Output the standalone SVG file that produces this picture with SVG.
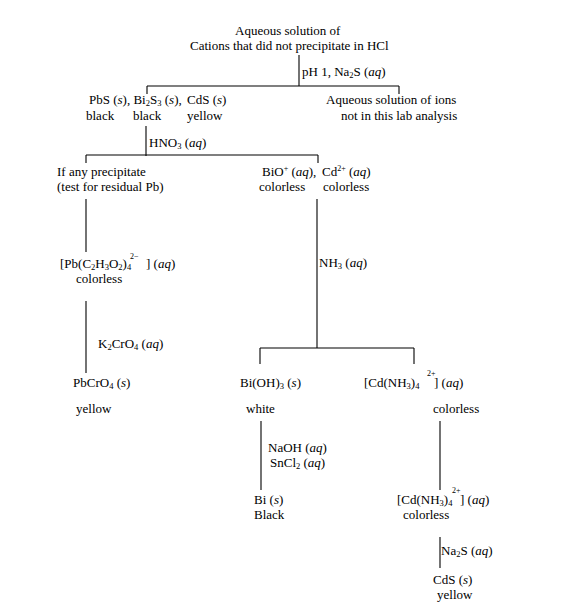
<svg xmlns="http://www.w3.org/2000/svg" width="586" height="616" viewBox="0 0 586 616">
<style>
text{font-family:"Liberation Serif","Times New Roman",serif;font-size:13px;fill:#000}
.i{font-style:italic}
.sub{font-size:8.5px}
.sup{font-size:8px}
.c line{stroke:#000;stroke-width:1.1;fill:none}
</style>
<rect width="586" height="616" fill="#fff"/>
<g id="connectors" class="c">
<line x1="299" y1="55" x2="299" y2="86"/>
<line x1="147" y1="86" x2="399" y2="86"/>
<line x1="147" y1="86" x2="147" y2="94"/>
<line x1="399" y1="86" x2="399" y2="94"/>
<line x1="146" y1="126" x2="146" y2="156"/>
<line x1="86" y1="155" x2="318" y2="155"/>
<line x1="86" y1="155" x2="86" y2="163"/>
<line x1="318" y1="155" x2="318" y2="163"/>
<line x1="86" y1="199" x2="86" y2="252"/>
<line x1="86" y1="301" x2="86" y2="373"/>
<line x1="317" y1="199" x2="317" y2="348"/>
<line x1="260" y1="348" x2="414" y2="348"/>
<line x1="260" y1="348" x2="260" y2="364"/>
<line x1="414" y1="348" x2="414" y2="364"/>
<line x1="261" y1="421" x2="261" y2="490"/>
<line x1="440" y1="421" x2="440" y2="490"/>
<line x1="440" y1="537" x2="440" y2="568"/>
</g>
<g id="start">
<text x="235" y="35">Aqueous solution of</text>
<text x="190" y="50">Cations that did not precipitate in HCl</text>
</g>
<g id="label-na2s-1"><text x="302" y="76">pH 1, Na<tspan class="sub" dy="1.5">2</tspan><tspan dy="-1.5">S (</tspan><tspan class="i">aq</tspan>)</text></g>
<g id="sulfides">
<text x="89" y="104">PbS (<tspan class="i">s</tspan>), Bi<tspan class="sub" dy="1.5">2</tspan><tspan dy="-1.5">S</tspan><tspan class="sub" dy="1.5">3</tspan><tspan dy="-1.5"> (</tspan><tspan class="i">s</tspan>),</text>
<text x="187" y="104">CdS (<tspan class="i">s</tspan>)</text>
<text x="86" y="120">black</text>
<text x="133" y="120">black</text>
<text x="187" y="120">yellow</text>
</g>
<g id="other-ions">
<text x="326" y="104">Aqueous solution of ions</text>
<text x="341" y="120">not in this lab analysis</text>
</g>
<g id="label-hno3"><text x="149" y="147">HNO<tspan class="sub" dy="1.5">3</tspan><tspan dy="-1.5"> (</tspan><tspan class="i">aq</tspan>)</text></g>
<g id="residual-pb">
<text x="57" y="176">If any precipitate</text>
<text x="57" y="190.5">(test for residual Pb)</text>
</g>
<g id="bi-cd-ions">
<text x="262" y="176">BiO<tspan class="sup" dy="-5">+</tspan><tspan dy="5"> (</tspan><tspan class="i">aq</tspan>),</text>
<text x="322" y="176">Cd<tspan class="sup" dy="-5">2+</tspan><tspan dy="5"> (</tspan><tspan class="i">aq</tspan>)</text>
<text x="259" y="190.5">colorless</text>
<text x="323" y="190.5">colorless</text>
</g>
<g id="pb-acetate">
<text x="60" y="268">[Pb(C<tspan class="sub" dy="1.5">2</tspan><tspan dy="-1.5">H</tspan><tspan class="sub" dy="1.5">3</tspan><tspan dy="-1.5">O</tspan><tspan class="sub" dy="1.5">2</tspan><tspan dy="-1.5">)</tspan><tspan class="sub" dy="1.5">4</tspan></text>
<text class="sup" x="130" y="259">2−</text>
<text x="146" y="268">] (<tspan class="i">aq</tspan>)</text>
<text x="76" y="283">colorless</text>
</g>
<g id="label-k2cro4"><text x="98" y="348">K<tspan class="sub" dy="1.5">2</tspan><tspan dy="-1.5">CrO</tspan><tspan class="sub" dy="1.5">4</tspan><tspan dy="-1.5"> (</tspan><tspan class="i">aq</tspan>)</text></g>
<g id="pbcro4">
<text x="73" y="387">PbCrO<tspan class="sub" dy="1.5">4</tspan><tspan dy="-1.5"> (</tspan><tspan class="i">s</tspan>)</text>
<text x="76" y="413">yellow</text>
</g>
<g id="label-nh3"><text x="319" y="267">NH<tspan class="sub" dy="1.5">3</tspan><tspan dy="-1.5"> (</tspan><tspan class="i">aq</tspan>)</text></g>
<g id="bioh3">
<text x="240" y="387">Bi(OH)<tspan class="sub" dy="1.5">3</tspan><tspan dy="-1.5"> (</tspan><tspan class="i">s</tspan>)</text>
<text x="246" y="413">white</text>
</g>
<g id="cd-ammine-1">
<text x="364" y="387">[Cd(NH<tspan class="sub" dy="1.5">3</tspan><tspan dy="-1.5">)</tspan><tspan class="sub" dy="1.5">4</tspan></text>
<text class="sup" x="427" y="376">2+</text>
<text x="434" y="387">] (<tspan class="i">aq</tspan>)</text>
<text x="433" y="413">colorless</text>
</g>
<g id="label-naoh">
<text x="268" y="452">NaOH (<tspan class="i">aq</tspan>)</text>
<text x="270" y="467">SnCl<tspan class="sub" dy="1.5">2</tspan><tspan dy="-1.5"> (</tspan><tspan class="i">aq</tspan>)</text>
</g>
<g id="bi">
<text x="254" y="504">Bi (<tspan class="i">s</tspan>)</text>
<text x="254" y="519">Black</text>
</g>
<g id="cd-ammine-2">
<text x="397" y="504">[Cd(NH<tspan class="sub" dy="1.5">3</tspan><tspan dy="-1.5">)</tspan><tspan class="sub" dy="1.5">4</tspan></text>
<text class="sup" x="452" y="493">2+</text>
<text x="460" y="504">] (<tspan class="i">aq</tspan>)</text>
<text x="403" y="519">colorless</text>
</g>
<g id="label-na2s-2"><text x="441" y="555">Na<tspan class="sub" dy="1.5">2</tspan><tspan dy="-1.5">S (</tspan><tspan class="i">aq</tspan>)</text></g>
<g id="cds">
<text x="433" y="584">CdS (<tspan class="i">s</tspan>)</text>
<text x="437" y="599">yellow</text>
</g>
</svg>
